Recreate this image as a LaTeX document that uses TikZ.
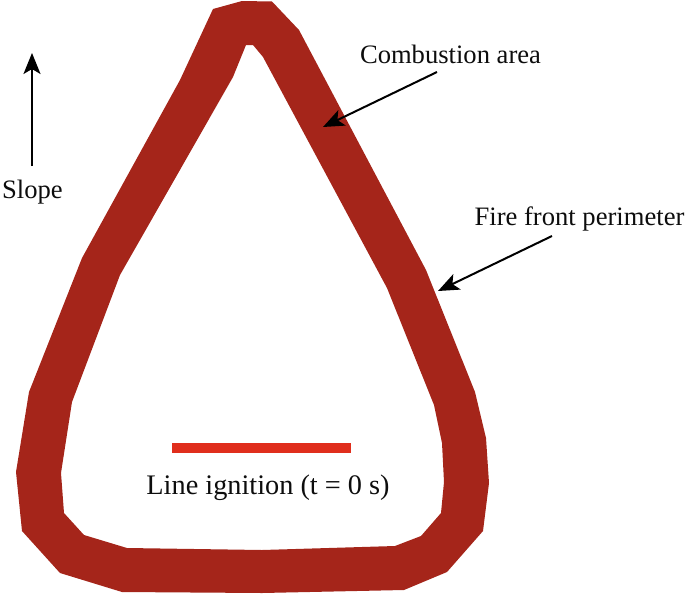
\documentclass[tikz,border=0pt]{standalone}
\usepackage{fontspec}
\setmainfont{Liberation Serif}
\usetikzlibrary{arrows.meta}
\definecolor{burn}{HTML}{A5251A}
\definecolor{ignite}{HTML}{E02E1C}
\tikzset{
  lbl/.style={inner sep=0pt,text=black!95,font=\fontsize{26.6}{30}\selectfont},
  pointer/.style={black,line width=2pt,-{Stealth[length=21pt,width=17pt,inset=5pt]}}
}
\begin{document}
\begin{tikzpicture}[x=1pt,y=-1pt]
\useasboundingbox (0,0) rectangle (685,595);
\fill[burn,even odd rule]
 (213,9) -- (242,1) -- (272,1.5) -- (299,30) -- (426,270) -- (475,392) -- (486,438) -- (489,483) -- (483,531) -- (447,572) -- (404,590) -- (262,593) -- (122,592) -- (60,573) -- (22,531) -- (16,472) -- (29,392) -- (82,258) -- (180,80) -- cycle
 (246,45) -- (253,45) -- (263,57) -- (387,288) -- (434,405) -- (442,443) -- (444,482) -- (441,513) -- (421,536) -- (395,546) -- (262,550) -- (127,548) -- (84,535) -- (64,513) -- (61,473) -- (72,402) -- (120,275) -- (233,77) -- cycle;
\fill[ignite] (172,443) rectangle (351,453);
\node[lbl] (slope) at (32.5,192) {Slope};
\node[lbl] (comb) at (450.5,54) {Combustion area};
\node[lbl] (fire) at (579.5,219) {Fire front perimeter};
\node[lbl,font=\fontsize{28.3}{30}\selectfont] (line) at (268,488) {Line ignition (t = 0 s)};
\coordinate (slopeS) at (32,166);
\coordinate (slopeT) at (32,53);
\coordinate (combS) at (437,72);
\coordinate (combT) at (323,127);
\coordinate (fireS) at (552,236);
\coordinate (fireT) at (438,291);
\draw[pointer] (slopeS) -- (slopeT);
\draw[pointer] (combS) -- (combT);
\draw[pointer] (fireS) -- (fireT);
\end{tikzpicture}
\end{document}
